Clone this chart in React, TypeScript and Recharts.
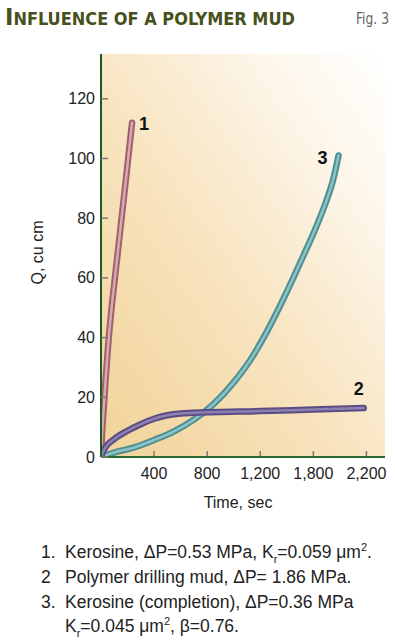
import React from 'react';
import { LineChart, Line, XAxis, YAxis, CartesianGrid } from 'recharts';

// Curve 1: Kerosine
const time1 = [0, 8, 20, 35, 55, 80, 110, 150, 200, 234];
const q1 = [0, 8, 16, 26, 38, 50, 62, 78, 98, 112];
// Curve 2: Polymer drilling mud
const time2 = [0, 30, 100, 200, 300, 400, 500, 600, 800, 1200, 1600, 1980];
const q2 = [0, 3, 6, 8.8, 11, 12.8, 14, 14.6, 15, 15.4, 15.9, 16.4];
// Curve 3: Kerosine (completion)
const time3 = [0, 100, 250, 400, 550, 700, 850, 1000, 1125, 1250, 1375, 1500, 1630, 1700, 1750, 1790];
const q3 = [0, 1.5, 3.2, 5.7, 8.6, 12.5, 17.8, 25, 32.5, 42, 53, 65, 78, 86, 93, 101];

const xTicks = [400, 800, 1200, 1600, 2000];
const xTickLabels = ['400', '800', '1,200', '1,800', '2,200'];
const yTicks = [0, 20, 40, 60, 80, 100, 120];
const curveNames = ['1', '2', '3'];

const toRows = (t: number[], q: number[]) => t.map((v, i) => ({ t: v, q: q[i] }));
const d1 = toRows(time1, q1);
const d2 = toRows(time2, q2);
const d3 = toRows(time3, q3);

const FONT = "'Liberation Sans', Arial, sans-serif";
const NARROW = "'Liberation Sans Narrow', 'DejaVu Sans Condensed', sans-serif";

const YTick = (props: any) => {
  const { x, y, payload } = props;
  return (
    <g>
      <line x1={x + 6} x2={x + 13} y1={y} y2={y} stroke="#7a7a7a" strokeWidth={1.5} />
      <text x={x} y={y} dy={5.5} textAnchor="end" fontSize={16} fontFamily={FONT} fill="#222">
        {payload.value}
      </text>
    </g>
  );
};

const XTick = (props: any) => {
  const { x, y, payload } = props;
  const idx = xTicks.indexOf(payload.value);
  return (
    <g>
      <line x1={x} x2={x} y1={y - 1} y2={y - 6} stroke="#7a7a7a" strokeWidth={1.5} />
      <text x={x} y={y + 22} textAnchor="middle" fontSize={16} fontFamily={FONT} fill="#222">
        {idx >= 0 ? xTickLabels[idx] : payload.value}
      </text>
    </g>
  );
};

const endLabel = (name: string, count: number, dx: number, dy: number) => (props: any) => {
  const { x, y, index } = props;
  if (index !== count - 1) return null;
  return (
    <text x={x + dx} y={y + dy} textAnchor="middle" fontSize={18} fontWeight="bold" fontFamily={FONT} fill="#111">
      {name}
    </text>
  );
};

const subStyle: React.CSSProperties = { fontSize: 11, lineHeight: 0 };

export default function App() {
  return (
    <div style={{ position: 'absolute', left: 0, top: 0, width: 395, height: 640, background: '#fff', fontFamily: FONT }}>
      <svg width={395} height={45} style={{ position: 'absolute', left: 0, top: 0 }}>
        <g transform="translate(0,25) scale(1,1.22)">
          <text
            x={5}
            y={0}
            textLength={290}
            lengthAdjust="spacingAndGlyphs"
            fontFamily={NARROW}
            fontWeight="bold"
            fill="#47511c"
          >
            <tspan fontSize={19.5}>I</tspan>
            <tspan fontSize={14}>NFLUENCE OF A POLYMER MUD</tspan>
          </text>
        </g>
        <text
          x={356}
          y={24}
          textLength={33}
          lengthAdjust="spacingAndGlyphs"
          fontFamily={NARROW}
          fontSize={15}
          fill="#666"
        >
          Fig. 3
        </text>
      </svg>
      <div style={{ position: 'absolute', left: 0, top: 0 }}>
        <LineChart width={395} height={640} margin={{ top: 54, right: 10, bottom: 153, left: 0 }}>
          <defs>
            <linearGradient id="bgGrad" x1="0" y1="1" x2="1" y2="0">
              <stop offset="0%" stopColor="#f2d398" />
              <stop offset="45%" stopColor="#f8e4c0" />
              <stop offset="78%" stopColor="#fdf6ea" />
              <stop offset="100%" stopColor="#ffffff" />
            </linearGradient>
          </defs>
          <CartesianGrid horizontal={false} vertical={false} fill="url(#bgGrad)" />
          <XAxis
            dataKey="t"
            type="number"
            domain={[0, 2140]}
            ticks={xTicks}
            height={30}
            tickSize={0}
            tickMargin={0}
            tick={(p: any) => <XTick {...p} />}
            axisLine={{ stroke: '#2f6b2f', strokeWidth: 2 }}
            allowDataOverflow
            label={{
              content: (lp: any) => {
                const vb = lp.viewBox;
                return (
                  <text x={vb.x + vb.width / 2 - 5} y={vb.y + 51} textAnchor="middle" fontSize={16} fontFamily={FONT} fill="#222">
                    Time, sec
                  </text>
                );
              },
            }}
          />
          <YAxis
            dataKey="q"
            type="number"
            domain={[0, 135]}
            ticks={yTicks}
            width={101}
            tickSize={0}
            tickMargin={6}
            tick={(p: any) => <YTick {...p} />}
            axisLine={{ stroke: '#1f5a1f', strokeWidth: 2 }}
            allowDataOverflow
            label={{
              content: (lp: any) => {
                const vb = lp.viewBox;
                const cx = vb.x + 37;
                const cy = vb.y + vb.height / 2 - 3;
                return (
                  <text x={cx} y={cy} transform={`rotate(-90, ${cx}, ${cy})`} textAnchor="middle" dominantBaseline="central" fontSize={16} fontFamily={FONT} fill="#222">
                    Q, cu cm
                  </text>
                );
              },
            }}
          />
          <Line data={d1} dataKey="q" type="monotone" stroke="#a0606e" strokeWidth={6.5} strokeLinecap="round" dot={false} isAnimationActive={false}
            label={endLabel(curveNames[0], d1.length, 12, 7)} />
          <Line data={d1} dataKey="q" type="monotone" stroke="#d9a9b1" strokeWidth={2.5} strokeLinecap="round" dot={false} isAnimationActive={false} legendType="none" />
          <Line data={d3} dataKey="q" type="monotone" stroke="#4f8f94" strokeWidth={6.5} strokeLinecap="round" dot={false} isAnimationActive={false}
            label={endLabel(curveNames[2], d3.length, -16, 9)} />
          <Line data={d3} dataKey="q" type="monotone" stroke="#8cc4c6" strokeWidth={2.5} strokeLinecap="round" dot={false} isAnimationActive={false} legendType="none" />
          <Line data={d2} dataKey="q" type="monotone" stroke="#5c4c84" strokeWidth={6.5} strokeLinecap="round" dot={false} isAnimationActive={false}
            label={endLabel(curveNames[1], d2.length, -5, -13)} />
          <Line data={d2} dataKey="q" type="monotone" stroke="#8e7fb3" strokeWidth={2.5} strokeLinecap="round" dot={false} isAnimationActive={false} legendType="none" />
        </LineChart>
      </div>
      <div style={{ position: 'absolute', left: 0, top: 0, fontSize: 17.5, color: '#222', lineHeight: '20px', whiteSpace: 'nowrap' }}>
        <div style={{ position: 'absolute', left: 41, top: 542 }}>1.</div>
        <div style={{ position: 'absolute', left: 65, top: 542 }}>
          Kerosine, ΔP=0.53 MPa, K<sub style={subStyle}>r</sub>=0.059 μm<sup style={subStyle}>2</sup>.
        </div>
        <div style={{ position: 'absolute', left: 41, top: 567 }}>2</div>
        <div style={{ position: 'absolute', left: 65, top: 567 }}>Polymer drilling mud, ΔP= 1.86 MPa.</div>
        <div style={{ position: 'absolute', left: 41, top: 592 }}>3.</div>
        <div style={{ position: 'absolute', left: 65, top: 592 }}>Kerosine (completion), ΔP=0.36 MPa</div>
        <div style={{ position: 'absolute', left: 65, top: 616 }}>
          K<sub style={subStyle}>r</sub>=0.045 μm<sup style={subStyle}>2</sup>, β=0.76.
        </div>
      </div>
    </div>
  );
}
